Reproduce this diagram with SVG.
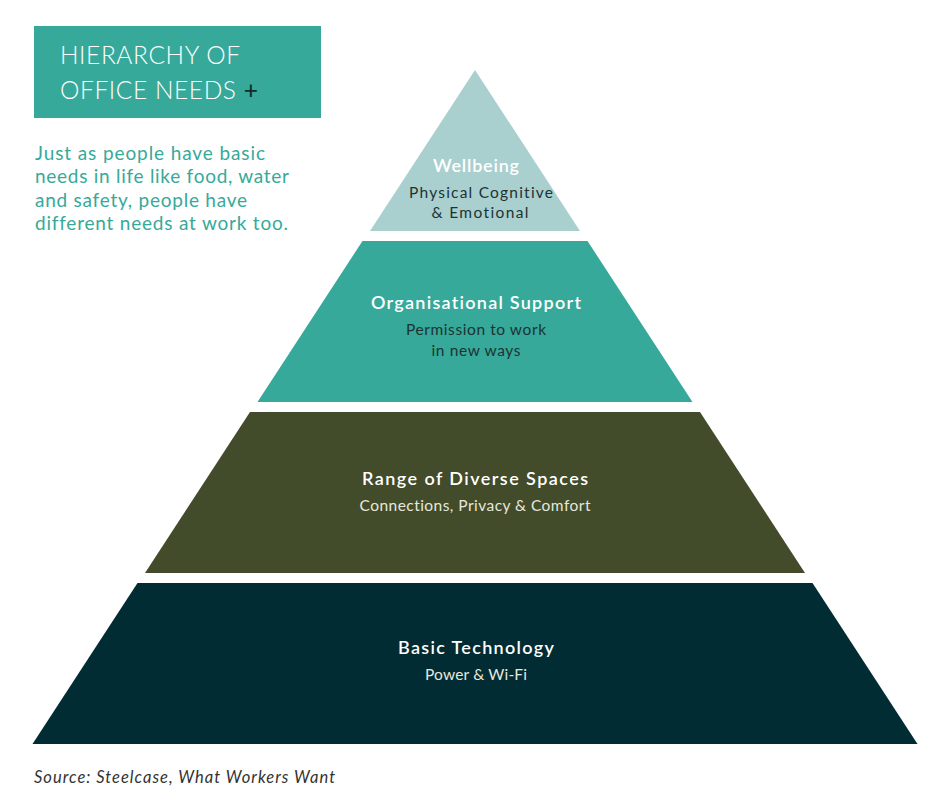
<svg xmlns="http://www.w3.org/2000/svg" width="948" height="809" viewBox="0 0 948 809">
<style>
text{font-family:Lato,"Open Sans","Liberation Sans",sans-serif;font-variant-ligatures:none;font-feature-settings:"liga" 0,"clig" 0}
.title{font-size:24.5px;font-weight:300;fill:#ffffff}
.plus{font-weight:normal;fill:#0f2a2a}
.intro{font-size:19px;fill:#36a99a}
.head{font-size:18px;font-weight:600;fill:#ffffff;text-anchor:middle}
.sub{font-size:15.5px;fill:#1c3333;text-anchor:middle}
.sublight{font-size:15.5px;fill:#e6e8dc;text-anchor:middle}
.src{font-size:16.5px;font-style:italic;fill:#333333}
</style>
<rect width="948" height="809" fill="#ffffff"/>
<g id="title">
<rect x="34" y="26" width="287" height="92" fill="#36a99a"/>
<text class="title" x="60" y="64" textLength="180" lengthAdjust="spacing">HIERARCHY OF</text>
<text class="title" x="60" y="99" textLength="198" lengthAdjust="spacing">OFFICE NEEDS <tspan class="plus">+</tspan></text>
</g>
<g id="intro">
<text class="intro" x="35" y="160" textLength="230" lengthAdjust="spacing">Just as people have basic</text>
<text class="intro" x="35" y="183" textLength="254" lengthAdjust="spacing">needs in life like food, water</text>
<text class="intro" x="35" y="207" textLength="212" lengthAdjust="spacing">and safety, people have</text>
<text class="intro" x="35" y="230" textLength="253" lengthAdjust="spacing">different needs at work too.</text>
</g>
<g id="wellbeing">
<polygon points="475,70 580,231 370,231" fill="#a9cfcf"/>
<text class="head" x="476" y="172" textLength="86" lengthAdjust="spacing">Wellbeing</text>
<text class="sub" x="481" y="198" textLength="144" lengthAdjust="spacing">Physical Cognitive</text>
<text class="sub" x="480" y="218" textLength="97" lengthAdjust="spacing">&amp; Emotional</text>
</g>
<g id="organisational-support">
<polygon points="362.5,241 587.5,241 692.5,402 257.5,402" fill="#36a99a"/>
<text class="head" x="476" y="309" textLength="210" lengthAdjust="spacing">Organisational Support</text>
<text class="sub" x="476" y="335" textLength="140" lengthAdjust="spacing">Permission to work</text>
<text class="sub" x="476" y="356" textLength="89" lengthAdjust="spacing">in new ways</text>
</g>
<g id="diverse-spaces">
<polygon points="250,412 700,412 805,573 145,573" fill="#424b2a"/>
<text class="head" x="475" y="485" textLength="226" lengthAdjust="spacing">Range of Diverse Spaces</text>
<text class="sublight" x="475" y="511" textLength="231" lengthAdjust="spacing">Connections, Privacy &amp; Comfort</text>
</g>
<g id="basic-technology">
<polygon points="137.5,583 812.5,583 917.5,744 32.5,744" fill="#022c33"/>
<text class="head" x="476" y="654" textLength="156" lengthAdjust="spacing">Basic Technology</text>
<text class="sublight" x="476" y="680" textLength="102" lengthAdjust="spacing">Power &amp; Wi-Fi</text>
</g>
<g id="connectors"></g>
<g id="source">
<text class="src" x="34" y="783" textLength="301" lengthAdjust="spacing">Source: Steelcase, What Workers Want</text>
</g>
</svg>
